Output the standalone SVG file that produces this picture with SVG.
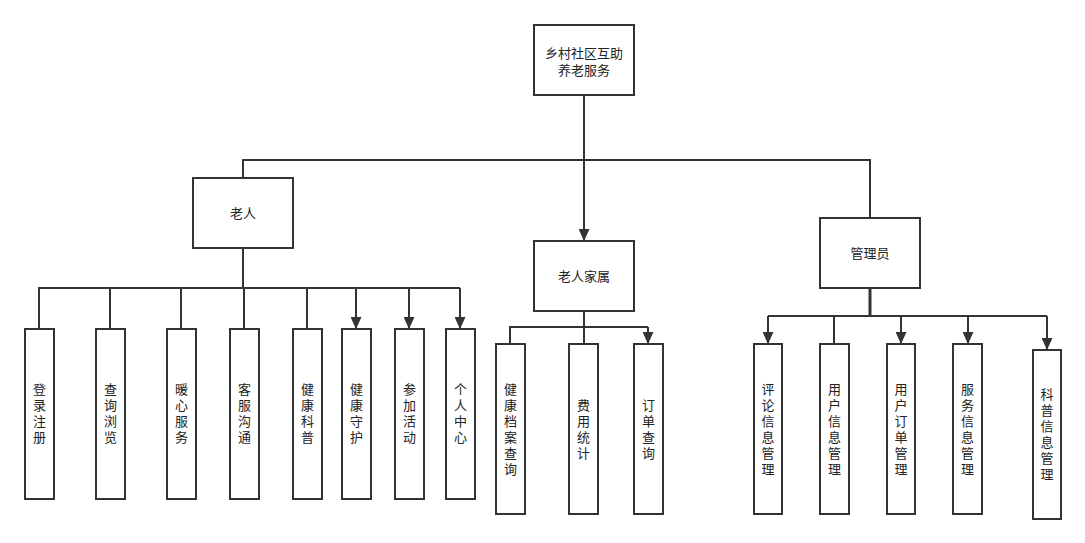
<svg xmlns="http://www.w3.org/2000/svg" width="1085" height="543" viewBox="0 0 1085 543">
<style>
.box{fill:#fff;stroke:#333;stroke-width:2}
.ln{fill:none;stroke:#333;stroke-width:2}
.t{font-family:"Noto Sans CJK SC","Liberation Sans",sans-serif;font-size:13px;fill:#222;text-anchor:middle}
.v{font-family:"Noto Sans CJK SC","Liberation Sans",sans-serif;font-size:13px;fill:#222;text-anchor:middle;writing-mode:vertical-rl;letter-spacing:3px}
</style>
<defs>
<marker id="ah" markerUnits="userSpaceOnUse" markerWidth="13" markerHeight="11" refX="12" refY="5.5" orient="auto" viewBox="0 0 13 11">
<path d="M0,0 L12,5.5 L0,11 z" fill="#333"/>
</marker>
</defs>
<rect width="1085" height="543" fill="#fff"/>
<g id="connectors">
<path class="ln" d="M584,95 V160"/>
<path class="ln" d="M243,178 V160 H870 V218"/>
<path class="ln" d="M584,160 V241" marker-end="url(#ah)"/>
<path class="ln" d="M243,248 V288"/>
<path class="ln" d="M39,329 V288 H460"/>
<path class="ln" d="M110,288 V329"/>
<path class="ln" d="M181,288 V329"/>
<path class="ln" d="M244,288 V329"/>
<path class="ln" d="M307,288 V329"/>
<path class="ln" d="M356,288 V329" marker-end="url(#ah)"/>
<path class="ln" d="M409,288 V329" marker-end="url(#ah)"/>
<path class="ln" d="M460,288 V329" marker-end="url(#ah)"/>
<path class="ln" d="M584,311 V327"/>
<path class="ln" d="M510,344 V327 H648"/>
<path class="ln" d="M584,327 V344"/>
<path class="ln" d="M648,327 V344" marker-end="url(#ah)"/>
<path class="ln" d="M870,288 V316" style="stroke-width:3"/>
<path class="ln" d="M768,316 H1047"/>
<path class="ln" d="M768,316 V344" marker-end="url(#ah)"/>
<path class="ln" d="M834,316 V344"/>
<path class="ln" d="M901,316 V344" marker-end="url(#ah)"/>
<path class="ln" d="M968,316 V344" marker-end="url(#ah)"/>
<path class="ln" d="M1047,316 V350" marker-end="url(#ah)"/>
</g>
<g id="root"><rect class="box" x="534" y="25" width="100" height="70"/>
<text class="t" x="584" y="58">乡村社区互助</text><text class="t" x="584" y="75">养老服务</text></g>
<g id="laoren"><rect class="box" x="193" y="178" width="100" height="70"/><text class="t" x="243" y="218">老人</text></g>
<g id="jiashu"><rect class="box" x="534" y="241" width="100" height="70"/><text class="t" x="584" y="281">老人家属</text></g>
<g id="guanli"><rect class="box" x="820" y="218" width="100" height="70"/><text class="t" x="870" y="258">管理员</text></g>

<g id="n1"><rect class="box" x="25" y="329" width="29" height="170"/><text class="v" x="39.5" y="415">登录注册</text></g>
<g id="n2"><rect class="box" x="96" y="329" width="29" height="170"/><text class="v" x="110.5" y="415">查询浏览</text></g>
<g id="n3"><rect class="box" x="167" y="329" width="29" height="170"/><text class="v" x="181.5" y="415">暖心服务</text></g>
<g id="n4"><rect class="box" x="230" y="329" width="29" height="170"/><text class="v" x="244.5" y="415">客服沟通</text></g>
<g id="n5"><rect class="box" x="293" y="329" width="29" height="170"/><text class="v" x="307.5" y="415">健康科普</text></g>
<g id="n6"><rect class="box" x="342" y="329" width="29" height="170"/><text class="v" x="356.5" y="415">健康守护</text></g>
<g id="n7"><rect class="box" x="395" y="329" width="29" height="170"/><text class="v" x="409.5" y="415">参加活动</text></g>
<g id="n8"><rect class="box" x="446" y="329" width="29" height="170"/><text class="v" x="460.5" y="415">个人中心</text></g>

<g id="m1"><rect class="box" x="496" y="344" width="29" height="170"/><text class="v" x="510.5" y="431">健康档案查询</text></g>
<g id="m2"><rect class="box" x="569" y="344" width="29" height="170"/><text class="v" x="583.5" y="431">费用统计</text></g>
<g id="m3"><rect class="box" x="634" y="344" width="29" height="170"/><text class="v" x="648.5" y="431">订单查询</text></g>

<g id="r1"><rect class="box" x="754" y="344" width="28" height="170"/><text class="v" x="768" y="431">评论信息管理</text></g>
<g id="r2"><rect class="box" x="820" y="344" width="29" height="170"/><text class="v" x="834.5" y="431">用户信息管理</text></g>
<g id="r3"><rect class="box" x="887" y="344" width="28" height="170"/><text class="v" x="901" y="431">用户订单管理</text></g>
<g id="r4"><rect class="box" x="953" y="344" width="29" height="170"/><text class="v" x="967.5" y="431">服务信息管理</text></g>
<g id="r5"><rect class="box" x="1033" y="350" width="28" height="169"/><text class="v" x="1047" y="436">科普信息管理</text></g>
</svg>
